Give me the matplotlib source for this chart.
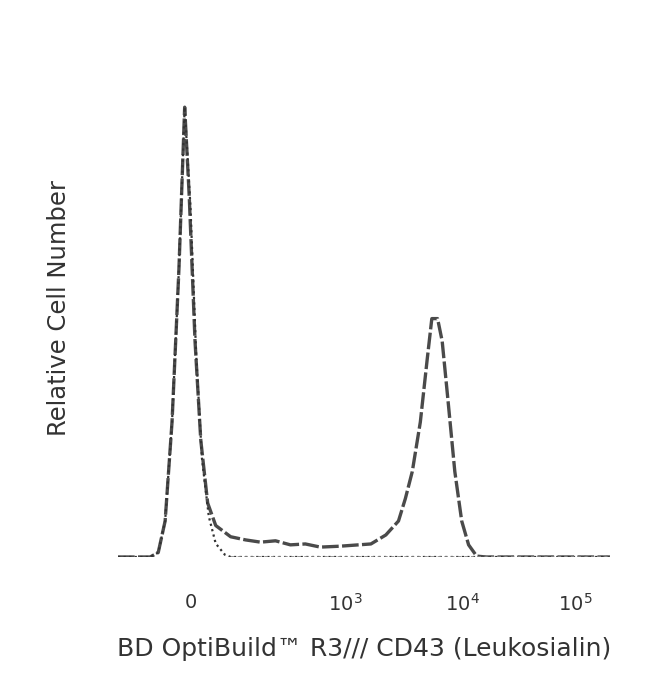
import matplotlib
matplotlib.use("Agg")
import matplotlib.pyplot as plt
import numpy as np

# x in display-transformed units (0 = zero, ticks at decades)
solid_x = [-0.63,-0.35,-0.28,-0.22,-0.16,-0.10,-0.05,-0.01,0.04,0.09,0.15,0.22,0.35,0.48,0.61,0.74,0.87,1.00,1.13,1.30,1.57,1.70,1.81,1.87,1.93,2.00,2.06,2.10,2.15,2.19,2.24,2.30,2.36,2.42,2.49,2.57,2.66,3.65]
solid_y = [0,0,1,8,30,64,100,80,48,26,12,7,4.5,3.8,3.3,3.6,2.7,2.9,2.2,2.4,2.9,4.9,8,13,19,30,44,53,53,48,35,19,8,2.7,0.2,0,0,0]
dot_x = [-0.63,-0.35,-0.28,-0.22,-0.16,-0.10,-0.05,0.0,0.05,0.10,0.16,0.22,0.30,0.35,3.65]
dot_y = [0,0,1,8,30,64,100,78,45,22,9,3,0.5,0,0]
tick_pos = [0, 1.35, 2.37, 3.35]
tick_labels = ["0", r"$10^3$", r"$10^4$", r"$10^5$"]

fig = plt.figure(figsize=(6.5,6.94), dpi=100)
ax = fig.add_axes([118/650, 1-557/694, (610-118)/650, (557-100)/694])
ax.plot(solid_x, solid_y, color="#4a4a4a", lw=2.4, ls=(0,(5,1)))
ax.plot(dot_x, dot_y, color="#333333", lw=1.6, ls=(0,(1,1.5)))
ax.plot([dot_x[-2], dot_x[-1]], [0,0], color="#888888", lw=1.2, ls=(0,(2,2)))
ax.set_xlim(-0.63, 3.65)
ax.set_ylim(0, 101.6)
for s in ax.spines.values():
    s.set_visible(False)
ax.set_xticks(tick_pos)
ax.set_xticklabels(tick_labels, fontsize=14, color="#333333")
ax.tick_params(axis="x", length=0, pad=26)
ax.set_yticks([])
ax.set_ylabel("Relative Cell Number", fontsize=17.5, color="#333333")
ax.yaxis.set_label_coords(-0.095, 0.545)
ax.set_xlabel("BD OptiBuild\u2122 R3/// CD43 (Leukosialin)", fontsize=18, color="#333333", labelpad=16)
fig.savefig("out.png", dpi=100)
